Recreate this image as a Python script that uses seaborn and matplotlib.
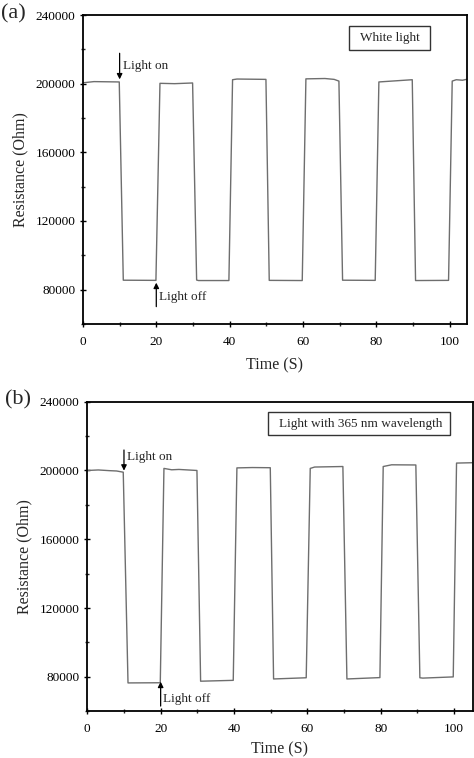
import matplotlib
matplotlib.use("Agg")
import matplotlib.pyplot as plt
import seaborn as sns
import pandas as pd
from matplotlib.patches import Rectangle
from matplotlib.ticker import MultipleLocator

# ---- data ----
time_a = [0, 3, 9.9, 11, 19.9, 21, 25, 29.9, 31, 31.5, 39.8, 40.8, 42, 49.9, 50.8,
          59.8, 60.8, 66, 68.5, 69.8, 70.8, 79.7, 80.7, 89.8, 90.7, 99.7, 100.7,
          101.8, 103.5, 104.6]
res_a = [200500, 201200, 201000, 85500, 85400, 200200, 200000, 200400, 85600, 85300,
         85300, 202300, 202700, 202500, 85400, 85300, 202800, 203000, 202500, 201500,
         85500, 85400, 201000, 202300, 85300, 85400, 201500, 202300, 202000, 202500]

time_b = [0, 3, 6, 8, 9.8, 11.1, 19.9, 20.9, 23, 25, 29.9, 30.9, 39.8, 40.8, 45,
          49.9, 50.8, 59.7, 60.8, 62, 69.7, 70.8, 79.8, 80.7, 83, 89.6, 90.7, 91.5,
          99.8, 100.7, 104.9]
res_b = [200000, 200300, 199900, 199700, 199000, 76500, 76600, 201200, 200400, 200600,
         200000, 77500, 78000, 201500, 201700, 201600, 78800, 79500, 201200, 202000,
         202300, 78800, 79600, 202300, 203300, 203200, 79500, 79300, 80000, 204300,
         204500]

yticks = [80000, 120000, 160000, 200000, 240000]
xticks = [0, 20, 40, 60, 80, 100]
xlabel = "Time (S)"
ylabel = "Resistance (Ohm)"
box_a = "White light"
box_b = "Light with 365 nm wavelength"

sns.set_style("ticks")
plt.rcParams["font.family"] = ["Liberation Serif", "DejaVu Serif"]

fig = plt.figure(figsize=(4.74, 7.58), dpi=100)
ax_a = fig.add_axes([0.175, 0.5726, 0.810, 0.4076])
ax_b = fig.add_axes([0.1842, 0.0616, 0.813, 0.4085])

df_a = pd.DataFrame({"t": time_a, "r": res_a})
df_b = pd.DataFrame({"t": time_b, "r": res_b})

for ax, df, xmax, lp in [(ax_a, df_a, 104.7, 7), (ax_b, df_b, 105.1, 4.5)]:
    sns.lineplot(data=df, x="t", y="r", ax=ax, sort=False, estimator=None,
                 color="#6e6e6e", linewidth=1.0)
    ax.set_xlim(0, xmax)
    ax.set_ylim(60000, 240000)
    ax.set_xticks(xticks)
    ax.set_yticks(yticks)
    ax.xaxis.set_minor_locator(MultipleLocator(10))
    ax.yaxis.set_minor_locator(MultipleLocator(20000))
    ax.tick_params(which="major", direction="inout", length=5, width=1.0,
                   labelsize=9.5, colors="black", pad=3)
    ax.tick_params(axis="x", which="major", pad=6)
    ax.tick_params(which="minor", direction="inout", length=3, width=1.0)
    ax.set_xlabel(xlabel, fontsize=11.5, labelpad=lp)
    ax.set_ylabel(ylabel, fontsize=11.5, labelpad=5)
    for s in ax.spines.values():
        s.set_visible(True)
        s.set_linewidth(1.3)
        s.set_color("black")

arrow_kw = dict(arrowstyle="-|>", color="black", lw=0.9, mutation_scale=8,
                shrinkA=0, shrinkB=0)

# panel (a) annotations
ax_a.annotate("", xy=(10, 202500), xytext=(10, 217700), arrowprops=arrow_kw)
ax_a.text(10.8, 210300, "Light on", fontsize=9.5, va="center", ha="left")
ax_a.annotate("", xy=(20, 84050), xytext=(20, 70100), arrowprops=arrow_kw)
ax_a.text(20.8, 75560, "Light off", fontsize=9.5, va="center", ha="left")

# panel (b) annotations
ax_b.annotate("", xy=(10, 199900), xytext=(10, 211900), arrowprops=arrow_kw)
ax_b.text(10.9, 208000, "Light on", fontsize=9.5, va="center", ha="left")
ax_b.annotate("", xy=(20, 77200), xytext=(20, 63050), arrowprops=arrow_kw)
ax_b.text(20.7, 67150, "Light off", fontsize=9.5, va="center", ha="left")

# label boxes
ax_a.add_patch(Rectangle((0.693, 0.887), 0.211, 0.077, transform=ax_a.transAxes,
                         fill=False, edgecolor="#333333", lw=1.0))
ax_a.text(0.7985, 0.9256, box_a, transform=ax_a.transAxes, fontsize=9.5,
          ha="center", va="center")
ax_b.add_patch(Rectangle((0.470, 0.892), 0.471, 0.074, transform=ax_b.transAxes,
                         fill=False, edgecolor="#333333", lw=1.0))
ax_b.text(0.710, 0.929, box_b, transform=ax_b.transAxes, fontsize=9.5,
          ha="center", va="center")

fig.text(0.029, 0.9815, "(a)", fontsize=16, ha="center", va="center")
fig.text(0.037, 0.4723, "(b)", fontsize=16, ha="center", va="center")

fig.savefig("out.png", dpi=100)
